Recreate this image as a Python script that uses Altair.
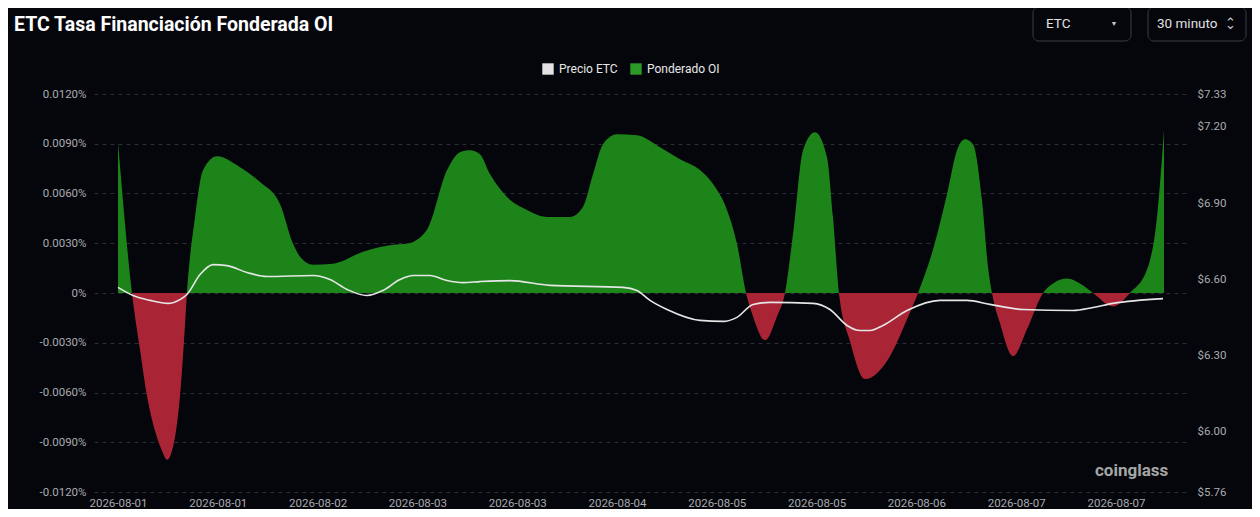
import altair as alt
import pandas as pd

chart_title = "ETC Tasa Financiación Fonderada OI"

# x positions are in axis-label steps (one step between two date labels)
oi_steps = [0.000, 0.140, 0.220, 0.291, 0.371, 0.441, 0.491, 0.541, 0.581, 0.621,
            0.661, 0.691, 0.772, 0.852, 0.992, 1.222, 1.423, 1.623, 1.754, 1.824,
            1.954, 2.154, 2.455, 2.756, 2.896, 3.096, 3.297, 3.427, 3.527, 3.627,
            3.727, 3.898, 4.098, 4.299, 4.529, 4.659, 4.760, 4.860, 5.000, 5.200,
            5.431, 5.631, 5.832, 5.962, 6.102, 6.202, 6.293, 6.363, 6.483, 6.603,
            6.683, 6.764, 6.864, 6.984, 7.104, 7.164, 7.224, 7.335, 7.485, 7.735,
            7.906, 8.016, 8.166, 8.307, 8.407, 8.487, 8.567, 8.657, 8.717, 8.758,
            8.838, 8.968, 9.108, 9.269, 9.369, 9.509, 9.639, 9.770, 9.970, 10.140,
            10.311, 10.411, 10.481]
# OI weighted funding rate, in percent
oi_rates = [0.00909, 0.0, -0.00339, -0.00621, -0.00831, -0.00951, -0.01005, -0.00951, -0.00831, -0.00621,
            -0.00291, 0.0, 0.00459, 0.00741, 0.00825, 0.00759, 0.00669, 0.00537, 0.00297, 0.00219,
            0.00171, 0.00177, 0.00249, 0.00291, 0.00297, 0.00381, 0.00741, 0.00849, 0.00861, 0.00837,
            0.00717, 0.00579, 0.00501, 0.00459, 0.00459, 0.00519, 0.00717, 0.00897, 0.00957, 0.00951,
            0.00879, 0.00807, 0.00741, 0.00657, 0.00501, 0.00297, 0.0, -0.00141, -0.00285, -0.00141,
            0.0, 0.00357, 0.00861, 0.00969, 0.00819, 0.00459, 0.0, -0.00291, -0.00519, -0.00381,
            -0.00159, 0.0, 0.00261, 0.00597, 0.00861, 0.00927, 0.00897, 0.00561, 0.00159, 0.0,
            -0.00183, -0.00381, -0.00219, 0.0, 0.00057, 0.00087, 0.00057, 0.0, -0.00081, 0.0,
            0.00141, 0.00459, 0.00981]

price_steps = [0.000, 0.150, 0.321, 0.501, 0.621, 0.691, 0.822, 0.952, 1.092, 1.293,
               1.493, 1.954, 2.124, 2.295, 2.495, 2.655, 2.826, 2.956, 3.126, 3.297,
               3.457, 3.627, 3.928, 4.329, 5.060, 5.200, 5.331, 5.501, 5.832, 6.062,
               6.202, 6.363, 6.533, 6.964, 7.134, 7.305, 7.435, 7.535, 7.665, 7.906,
               8.236, 8.507, 8.737, 9.068, 9.569, 9.770, 9.970, 10.471]
price_values = [6.567, 6.535, 6.516, 6.504, 6.519, 6.539, 6.618, 6.657, 6.653, 6.626,
                6.610, 6.614, 6.598, 6.559, 6.535, 6.555, 6.598, 6.614, 6.614, 6.594,
                6.586, 6.590, 6.594, 6.575, 6.567, 6.555, 6.516, 6.480, 6.437, 6.433,
                6.449, 6.500, 6.508, 6.504, 6.480, 6.417, 6.397, 6.397, 6.417, 6.476,
                6.516, 6.516, 6.500, 6.480, 6.476, 6.488, 6.504, 6.523]

tick_labels = ["2026-08-01", "2026-08-01", "2026-08-02", "2026-08-03", "2026-08-03",
               "2026-08-04", "2026-08-05", "2026-08-05", "2026-08-06", "2026-08-07",
               "2026-08-07"]
rate_ticks = [-0.012, -0.009, -0.006, -0.003, 0.0, 0.003, 0.006, 0.009, 0.012]
price_ticks = [5.76, 6.00, 6.30, 6.60, 6.90, 7.20, 7.33]
legend_names = ["Precio ETC", "Ponderado OI"]
legend_colors = ["#e2e2e4", "#2c9a29"]
symbol_text = "ETC"
interval_text = "30 minuto"
brand_text = "coinglass"

BG = "#05060b"
GREEN = "#1d841a"
RED = "#a92535"
LABEL = "#a9abb0"
W, H = 1095, 398

oi_df = pd.DataFrame({"step": oi_steps, "rate": oi_rates})
price_df = pd.DataFrame({"step": price_steps, "price": price_values})
legend_df = pd.DataFrame({"name": legend_names})

x_scale = alt.Scale(domain=[-0.2405, 10.7315], nice=False, zero=False)
x_axis = alt.Axis(values=list(range(len(tick_labels))),
                  labelExpr="%s[datum.value]" % str(tick_labels),
                  title=None, domain=False, ticks=False, grid=False,
                  labelFlush=False, labelPadding=5, labelColor=LABEL,
                  labelFontSize=11.5, labelFont="Roboto")

# split colour exactly at the zero line (fraction of the area's height)
top, bottom = max(oi_rates), min(oi_rates)
zero_at = top / (top - bottom)
fill = alt.Gradient(gradient="linear", x1=0, x2=0, y1=0, y2=1,
                    stops=[alt.GradientStop(offset=0, color=GREEN),
                           alt.GradientStop(offset=zero_at, color=GREEN),
                           alt.GradientStop(offset=zero_at, color=RED),
                           alt.GradientStop(offset=1, color=RED)])

area = alt.Chart(oi_df).mark_area(interpolate="monotone", color=fill).encode(
    x=alt.X("step:Q", scale=x_scale, axis=x_axis),
    y=alt.Y("rate:Q", stack=None,
            scale=alt.Scale(domain=[-0.012, 0.012], nice=False),
            axis=alt.Axis(orient="left", values=rate_ticks, title=None,
                          labelExpr="datum.value == 0 ? '0%' : (datum.value < 0 ? '-' : '') + format(abs(datum.value), '.4f') + '%'",
                          domain=False, ticks=False, grid=True, gridDash=[4, 4],
                          gridColor="#2a2d35", labelFlush=False, labelPadding=8,
                          labelColor=LABEL, labelFontSize=11.5, labelFont="Roboto"))
)

line = alt.Chart(price_df).mark_line(interpolate="monotone", color="#e6e6e6",
                                     strokeWidth=1.6).encode(
    x=alt.X("step:Q", scale=x_scale, axis=x_axis),
    y=alt.Y("price:Q", scale=alt.Scale(domain=[5.76, 7.33], nice=False, zero=False),
            axis=alt.Axis(orient="right", values=price_ticks, title=None,
                          labelExpr="'$' + format(datum.value, '.2f')",
                          domain=False, ticks=False, grid=False, labelFlush=False,
                          labelPadding=8, labelColor=LABEL, labelFontSize=11.5,
                          labelFont="Roboto"))
)

legend_layer = alt.Chart(legend_df).mark_square(size=0, opacity=1).encode(
    color=alt.Color("name:N",
                    scale=alt.Scale(domain=legend_names, range=legend_colors),
                    legend=alt.Legend(title=None, orient="none", direction="horizontal",
                                      legendX=448, legendY=-31, symbolType="square",
                                      symbolSize=130, symbolStrokeWidth=0,
                                      symbolOpacity=1,
                                      labelColor="#e8e8e8", labelFontSize=12,
                                      labelFont="Roboto", labelOffset=5,
                                      columnPadding=12))
)


def label(text, x, y, size, color, weight="normal", align="left"):
    return alt.Chart(pd.DataFrame({"t": [text]})).mark_text(
        align=align, baseline="middle", font="Roboto", fontSize=size,
        fontWeight=weight, color=color
    ).encode(x=alt.value(x), y=alt.value(y), text="t:N")


def box(x, x2):
    return alt.Chart(pd.DataFrame({"t": [0]})).mark_rect(
        fill=BG, stroke="#3a3d45", strokeWidth=1, cornerRadius=6
    ).encode(x=alt.value(x), x2=alt.value(x2), y=alt.value(-87), y2=alt.value(-53))


title = label(chart_title, -80, -69, 19.5, "#ffffff", "bold")
etc_box = box(939, 1037)
etc_text = label(symbol_text, 952, -70, 13.5, "#e0e0e0")
etc_arrow = label("▼", 1020, -70, 7, "#c8c8c8", align="center")
int_box = box(1054, 1152)
int_text = label(interval_text, 1063, -70, 13.5, "#e0e0e0")
int_up = label("⌃", 1136, -71, 13, "#d0d0d0", align="center")
int_down = label("⌄", 1136, -69, 13, "#d0d0d0", align="center")
brand = label(brand_text, 1001, 377, 17, "#a6a6a6", "bold")

chart = alt.layer(
    area, line, legend_layer, title, etc_box, etc_text, etc_arrow,
    int_box, int_text, int_up, int_down, brand
).resolve_scale(y="independent").properties(
    width=W, height=H,
    autosize=alt.AutoSizeParams(type="none"),
    padding={"left": 86, "top": 86, "right": 63, "bottom": 17},
    background=BG,
).configure_view(stroke=None)

chart.save("out.html", embed_options={"renderer": "svg", "actions": False})
